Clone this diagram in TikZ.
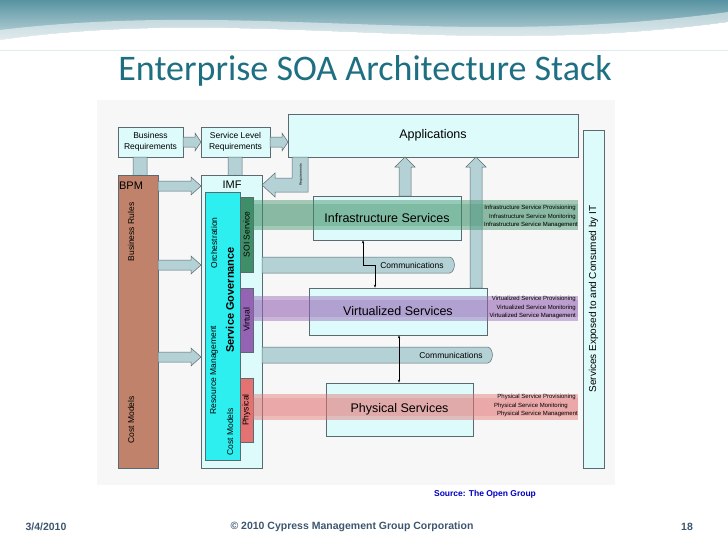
\documentclass[tikz,border=0pt]{standalone}
\usepackage{fontspec}
\setmainfont{Liberation Sans}
\newfontfamily\titlefont{Carlito}
\usetikzlibrary{shapes.arrows,arrows.meta}
\definecolor{boxc}{HTML}{DDFBFB}
\definecolor{bord}{HTML}{5A6A70}
\definecolor{arrc}{HTML}{B4D2D6}
\definecolor{teal}{HTML}{1F6F82}
\definecolor{brown}{HTML}{C0826A}
\definecolor{cyanb}{HTML}{2EEFEF}
\definecolor{greenc}{HTML}{3E8F68}
\definecolor{purc}{HTML}{9463B4}
\definecolor{redc}{HTML}{E47272}
\definecolor{foot}{HTML}{3C5670}
\tikzset{
 bx/.style={draw=bord,fill=boxc,line width=0.7pt},
 fat/.style={draw=bord,fill=arrc,line width=0.5pt},
 lbl/.style={font=\fontsize{8.5}{8.5}\selectfont,inner sep=0},
 tiny/.style={font=\fontsize{6}{6}\selectfont,inner sep=0,anchor=east},
 big/.style={font=\fontsize{12.5}{12.5}\selectfont},
 dbl/.style={{Stealth[length=3pt]}-{Stealth[length=3pt]},line width=0.5pt}
}
\newcommand{\harrow}[5]{\draw[fat] (#1,#3-#4) -- (#2-#5,#3-#4) -- (#2-#5,#3-#4-4) -- (#2,#3) -- (#2-#5,#3+#4+4) -- (#2-#5,#3+#4) -- (#1,#3+#4) -- cycle;}
\newcommand{\varrow}[5]{\draw[fat] (#3-#4,#1) -- (#3-#4,#2+#5) -- (#3-#4-4,#2+#5) -- (#3,#2) -- (#3+#4+4,#2+#5) -- (#3+#4,#2+#5) -- (#3+#4,#1) -- cycle;}
\begin{document}
\begin{tikzpicture}[x=1pt,y=-1pt]
\useasboundingbox (0,0) rectangle (728,546);
% header
\shade[top color=teal!75,bottom color=teal!15] (0,0) rectangle (728,50);
\fill[white] (0,40) .. controls (250,5) and (450,60) .. (728,22) -- (728,50) -- (0,50) -- cycle;
\fill[white,opacity=0.5] (0,30) .. controls (250,0) and (450,50) .. (728,12) -- (728,22) .. controls (450,60) and (250,5) .. (0,40) -- cycle;
\node[font=\titlefont\fontsize{36}{36}\selectfont,text=teal] (title) at (365,71) {Enterprise SOA Architecture Stack};
% diagram background
\fill[gray!6] (97,100) rectangle (615,485);
% top boxes
\node[bx,minimum width=65,minimum height=30,align=center,lbl] (br) at (150.5,142) {Business\\[2pt]Requirements};
\node[bx,minimum width=69,minimum height=30,align=center,lbl] (slr) at (235.5,142) {Service Level\\[2pt]Requirements};
\node[bx,minimum width=290,minimum height=43,big] (app) at (433,135.5) {Applications};
\harrow{183}{201}{142}{5}{6}
\harrow{270}{288}{142}{5}{6}
\varrow{157}{175}{140}{7}{7}
\varrow{157}{175}{235}{7}{7}
% BPM
\node[draw=bord,fill=brown,minimum width=40,minimum height=293,line width=0.7pt] (bpm) at (138,321.5) {};
\node[lbl,font=\fontsize{11}{11}\selectfont] (bpmt) at (131,186) {BPM};
\node[lbl,rotate=90] (brul) at (131,232) {Business Rules};
\node[lbl,rotate=90] (cm1) at (131,420) {Cost Models};
% IMF
\node[bx,minimum width=61,minimum height=293] (imf) at (231.5,321.5) {};
\node[lbl,font=\fontsize{11}{11}\selectfont] (imft) at (232,185) {IMF};
\node[draw=bord,fill=cyanb,minimum width=35,minimum height=268,line width=0.5pt] (sg) at (222.5,326) {};
\node[lbl,rotate=90] (orch) at (214,243) {Orchestration};
\node[lbl,rotate=90] (resm) at (214,370) {Resource Management};
\node[lbl,rotate=90] (cm2) at (230,432) {Cost Models};
\node[lbl,rotate=90,font=\bfseries\fontsize{11}{11}\selectfont] (sgt) at (230,300) {Service Governance};
\node[draw=bord,fill=greenc,minimum width=13,minimum height=75,inner sep=0] (soi) at (246.5,234.5) {};
\node[lbl,rotate=90] at (soi) {SOI Service};
\node[draw=bord,fill=purc,minimum width=13,minimum height=64,inner sep=0] (virt) at (246.5,320) {};
\node[lbl,rotate=90] at (virt) {Virtual};
\node[draw=bord,fill=redc,minimum width=13,minimum height=64,inner sep=0] (phys) at (246.5,410) {};
\node[lbl,rotate=90] at (phys) {Physical};
% BPM -> IMF arrows
\harrow{158}{201}{186}{5}{10}
\harrow{158}{201}{265}{5}{10}
\harrow{158}{201}{357}{5}{10}
% Requirements L-arrow
\draw[fat] (292,157) -- (308,157) -- (308,192) -- (275,192) -- (275,197) -- (262,185) -- (275,173) -- (275,178) -- (292,178) -- cycle;
\node[inner sep=0,font=\fontsize{3.5}{3.5}\selectfont,rotate=90] (req) at (301,175) {Requirements};
% right column
\node[bx,minimum width=21,minimum height=338] (exp) at (593.5,299) {};
\node[lbl,rotate=90,font=\fontsize{10}{10}\selectfont] at (exp) {Services Exposed to and Consumed by IT};
% up arrows to applications
\varrow{196}{157}{405}{6}{10}
\varrow{288}{157}{476}{6}{10}
% communications bars
\draw[fat] (262,257) -- (450,257) to[out=-20,in=20] (450,273) -- (262,273) -- cycle;
\node[lbl] (com1) at (412,265) {Communications};
\draw[fat] (262,347) -- (488,347) to[out=-20,in=20] (488,363) -- (262,363) -- cycle;
\node[lbl] (com2) at (451,355) {Communications};
% service boxes
\node[bx,minimum width=148,minimum height=44] (inf) at (387,218) {};
\node[bx,minimum width=178,minimum height=47] (vs) at (398,311.5) {};
\node[bx,minimum width=147,minimum height=53] (ps) at (399.5,409.5) {};
% bands
\fill[greenc,opacity=0.45] (253,200) rectangle (578,230);
\fill[greenc,opacity=0.25] (253,204) rectangle (578,226);
\fill[purc,opacity=0.45] (253,296) rectangle (578,321);
\fill[purc,opacity=0.25] (253,300) rectangle (578,317);
\fill[redc,opacity=0.45] (253,394) rectangle (578,420);
\fill[redc,opacity=0.25] (253,398) rectangle (578,416);
\node[big] at (inf) {Infrastructure Services};
\node[big] at (vs) {Virtualized Services};
\node[big] at (ps) {Physical Services};
\node[tiny] (ip) at (576,208) {Infrastructure Service Provisioning};
\node[tiny] (im) at (576,216.5) {Infrastructure Service Monitoring};
\node[tiny] (ig) at (578,225) {Infrastructure Service Management};
\node[tiny] (vp) at (576,299) {Virtualized Service Provisioning};
\node[tiny] (vm) at (576,307.5) {Virtualized Service Monitoring};
\node[tiny] (vg) at (576,316) {Virtualized Service Management};
\node[tiny] (pp) at (576,397) {Physical Service Provisioning};
\node[tiny] (pm) at (568,405.5) {Physical Service Monitoring};
\node[tiny] (pg) at (578,414) {Physical Service Management};
% double arrows
\draw[dbl] (inf.south -| 363,0) -- (363,265) -- (375,265) -- (vs.north -| 375,0);
\draw[dbl] (vs.south -| 399,0) -- (ps.north -| 399,0);
% footer
\node[font=\bfseries\fontsize{8.5}{8.5}\selectfont,text=blue!75!black] (src) at (485,494) {Source: The Open Group};
\node[font=\bfseries\fontsize{10.5}{10.5}\selectfont,text=foot,anchor=west] (date) at (22,527) {3/4/2010};
\node[font=\bfseries\fontsize{10.5}{10.5}\selectfont,text=foot] (copy) at (352,527) {© 2010 Cypress Management Group Corporation};
\node[font=\bfseries\fontsize{10.5}{10.5}\selectfont,text=foot] (pg18) at (687,527) {18};
\end{tikzpicture}
\end{document}
